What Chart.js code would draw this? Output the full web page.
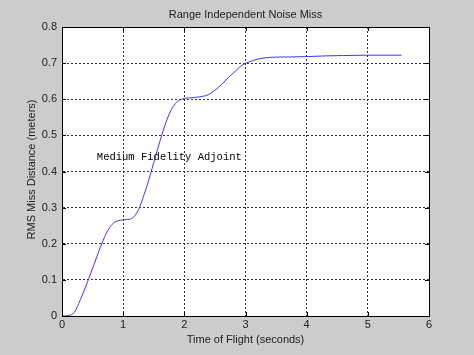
<!DOCTYPE html>
<html><head><meta charset="utf-8">
<script src="https://cdn.jsdelivr.net/npm/chart.js@4/dist/chart.umd.min.js"></script>
<style>html,body{margin:0;padding:0;background:#cccccc;}#wrap{width:474px;height:355px;}</style>
</head><body><div id="wrap"><canvas id="c" width="474" height="355"></canvas></div>
<script>
const timeSec = [0,0.1,0.2,0.3,0.43,0.55,0.65,0.75,0.84,0.95,1.05,1.14,1.25,1.35,1.42,1.5,1.63,1.72,1.8,1.9,2.0,2.17,2.3,2.4,2.5,2.61,2.72,2.83,2.95,3.07,3.2,3.4,3.7,4.0,4.3,4.6,5.0,5.55];
const missDist = [0,0.001,0.01,0.045,0.1,0.155,0.2,0.237,0.257,0.265,0.267,0.27,0.294,0.34,0.377,0.425,0.5,0.545,0.575,0.595,0.602,0.605,0.608,0.613,0.625,0.641,0.66,0.677,0.695,0.704,0.711,0.716,0.717,0.718,0.72,0.721,0.722,0.722];
const xTicks = [0,1,2,3,4,5,6];
const yTicks = [0,0.1,0.2,0.3,0.4,0.5,0.6,0.7,0.8];
const titleText = 'Range Independent Noise Miss';
const xTitle = 'Time of Flight (seconds)';
const yTitle = 'RMS Miss Distance (meters)';
const noteText = 'Medium Fidelity Adjoint';
const notePos = {x: 0.57, y: 0.44};

const pts = timeSec.map((t,i)=>({x:t,y:missDist[i]}));
const TXT = '#222222';
const decor = {
  id:'decor',
  beforeDraw(chart){
    const ctx=chart.ctx, a=chart.chartArea;
    ctx.save();
    ctx.fillStyle='#cccccc'; ctx.fillRect(0,0,chart.width,chart.height);
    ctx.fillStyle='#ffffff'; ctx.fillRect(a.left,a.top,a.right-a.left,a.bottom-a.top);
    ctx.restore();
  },
  afterDraw(chart){
    const ctx=chart.ctx, a=chart.chartArea, xs=chart.scales.x, ys=chart.scales.y;
    ctx.save();
    ctx.setLineDash([]);
    ctx.strokeStyle='#000'; ctx.lineWidth=1;
    ctx.beginPath();
    xTicks.forEach(v=>{const px=Math.round(xs.getPixelForValue(v))+0.5;
      ctx.moveTo(px,a.bottom);ctx.lineTo(px,a.bottom-4);ctx.moveTo(px,a.top);ctx.lineTo(px,a.top+4);});
    yTicks.forEach(v=>{const py=Math.round(ys.getPixelForValue(v))+0.5;
      ctx.moveTo(a.left,py);ctx.lineTo(a.left+4,py);ctx.moveTo(a.right,py);ctx.lineTo(a.right-4,py);});
    ctx.stroke();
    ctx.strokeRect(Math.round(a.left)+0.5,Math.round(a.top)+0.5,Math.round(a.right-a.left),Math.round(a.bottom-a.top));
    ctx.fillStyle=TXT;
    ctx.font='11px "Liberation Sans", Arial, sans-serif';
    ctx.textAlign='center'; ctx.textBaseline='middle';
    ctx.fillText(titleText,(a.left+a.right)/2,15);
    ctx.fillText(xTitle,(a.left+a.right)/2,340);
    ctx.save(); ctx.translate(32,(a.top+a.bottom)/2-2); ctx.rotate(-Math.PI/2);
    ctx.fillText(yTitle,0,0); ctx.restore();
    ctx.fillStyle='#000';
    ctx.font='10.5px "Liberation Mono", "Courier New", monospace';
    ctx.textAlign='left';
    ctx.fillText(noteText,xs.getPixelForValue(notePos.x),ys.getPixelForValue(notePos.y));
    ctx.restore();
  }
};

const gridOpts = {color:'#333',drawTicks:false,lineWidth:1};
const borderOpts = {display:true,color:'#000',dash:[2,2]};
new Chart(document.getElementById('c'),{
  type:'line',
  data:{datasets:[{data:pts,borderColor:'#3b3be6',borderWidth:1,pointRadius:0,fill:false,cubicInterpolationMode:'monotone'}]},
  options:{
    responsive:false,animation:false,
    layout:{padding:{top:27,right:45,left:0,bottom:0}},
    plugins:{legend:{display:false},tooltip:{enabled:false},title:{display:false}},
    scales:{
      x:{type:'linear',min:0,max:6,
        afterFit(s){s.height=39;},
        afterBuildTicks(s){s.ticks=xTicks.map(v=>({value:v}));},
        ticks:{color:TXT,font:{size:11,family:'"Liberation Sans", Arial, sans-serif'},padding:2,maxRotation:0},
        grid:gridOpts, border:borderOpts},
      y:{type:'linear',min:0,max:0.8,
        afterFit(s){s.width=62;},
        afterBuildTicks(s){s.ticks=yTicks.map(v=>({value:v}));},
        ticks:{color:TXT,font:{size:11,family:'"Liberation Sans", Arial, sans-serif'},padding:5,callback:v=>(Math.round(v*10)/10).toString()},
        grid:gridOpts, border:borderOpts}
    }
  },
  plugins:[decor]
});
</script></body></html>
